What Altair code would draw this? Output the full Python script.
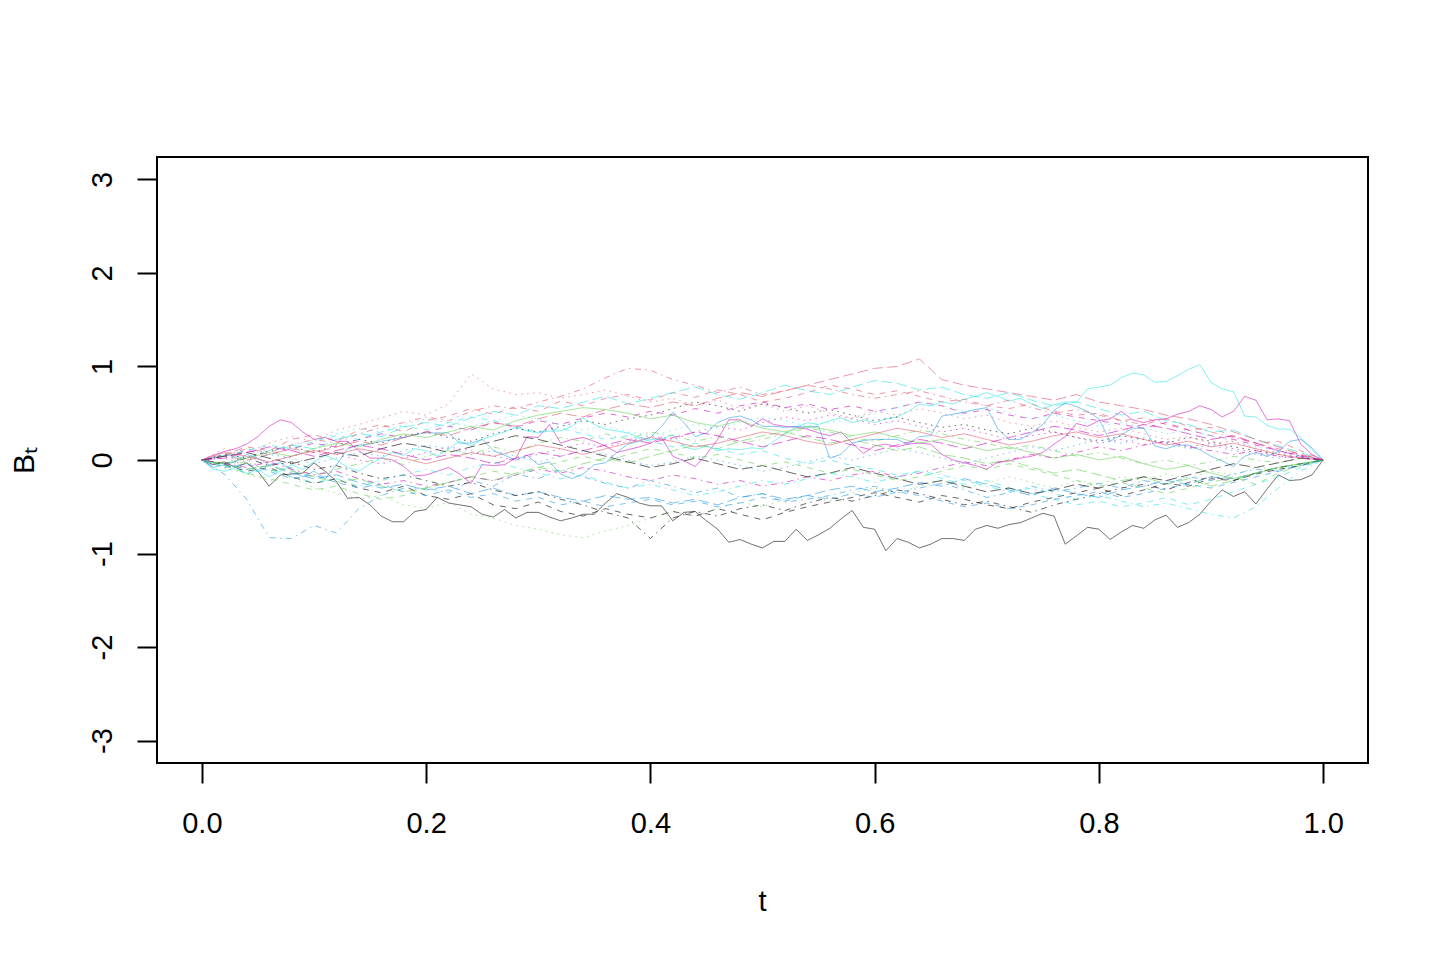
import altair as alt
import pandas as pd

# ---- colours / line types of R's matplot (col = 1:6, lty = 1:5 cycling) ----
PALETTE = ["#000000", "#DF536B", "#61D04F", "#2297E6", "#28E2E5", "#CD0BBC"]
LTY = ["solid", "dashed", "dotted", "dotdash", "longdash"]
DASH = {"solid": [1, 0], "dashed": [6, 6], "dotted": [1.5, 4.5],
        "dotdash": [1.5, 4.5, 6, 4.5], "longdash": [10.5, 4.5]}

X_TICKS = [0.0, 0.2, 0.4, 0.6, 0.8, 1.0]
Y_TICKS = [-3, -2, -1, 0, 1, 2, 3]

# ---- paths (fine: step 0.01, coarse: step 0.02) ----
s01 = [0, -0.05, -0.02, -0.08, -0.03, -0.12, -0.28, -0.16, -0.15, -0.14,
       -0.03, -0.12, -0.23, -0.41, -0.40, -0.48, -0.60, -0.66, -0.66, -0.55,
       -0.53, -0.40, -0.46, -0.48, -0.50, -0.58, -0.61, -0.53, -0.62, -0.56,
       -0.56, -0.61, -0.65, -0.62, -0.58, -0.58, -0.46, -0.36, -0.40, -0.46,
       -0.49, -0.49, -0.65, -0.56, -0.55, -0.65, -0.74, -0.88, -0.85, -0.90,
       -0.94, -0.87, -0.87, -0.74, -0.86, -0.80, -0.73, -0.63, -0.54, -0.72,
       -0.74, -0.97, -0.84, -0.88, -0.94, -0.90, -0.84, -0.84, -0.86, -0.74,
       -0.70, -0.73, -0.69, -0.67, -0.62, -0.57, -0.60, -0.90, -0.81, -0.72,
       -0.74, -0.85, -0.77, -0.70, -0.73, -0.64, -0.59, -0.72, -0.67, -0.58,
       -0.44, -0.32, -0.39, -0.34, -0.47, -0.31, -0.16, -0.22, -0.21, -0.16,
       0]
s06 = [0, 0.05, 0.09, 0.12, 0.17, 0.25, 0.36, 0.43, 0.40, 0.30,
       0.22, 0.24, 0.20, 0.20, 0.10, 0.02, 0.02, 0.00, -0.07, -0.17,
       -0.16, -0.12, -0.08, -0.15, -0.25, -0.05, -0.06, -0.05, 0.02, 0.25,
       0.24, 0.38, 0.18, 0.22, 0.24, 0.20, 0.15, 0.08, 0.11, 0.14,
       0.18, 0.24, 0.04, -0.01, -0.07, 0.06, 0.22, 0.43, 0.43, 0.36,
       0.44, 0.38, 0.36, 0.35, 0.33, 0.29, 0.26, 0.30, 0.18, 0.07,
       0.15, 0.17, 0.14, 0.17, 0.18, 0.17, 0.06, 0.00, -0.03, -0.06,
       -0.10, -0.02, -0.01, 0.02, 0.04, 0.08, 0.17, 0.25, 0.39, 0.36,
       0.42, 0.44, 0.52, 0.43, 0.40, 0.43, 0.44, 0.49, 0.52, 0.58,
       0.54, 0.46, 0.52, 0.68, 0.64, 0.43, 0.44, 0.42, 0.17, 0.06,
       0]
s11 = [0, -0.10, -0.12, -0.08, -0.15, -0.10, -0.18, -0.12, -0.05, -0.10,
       -0.02, 0.05, 0.00, -0.08, -0.12, -0.04, 0.02, 0.08, 0.05, 0.12,
       0.10, 0.04, 0.12, 0.20, 0.15, 0.22, 0.26, 0.30, 0.35, 0.31,
       0.29, 0.31, 0.31, 0.36, 0.45, 0.38, 0.33, 0.31, 0.29, 0.24,
       0.22, 0.22, 0.27, 0.14, 0.11, 0.15, 0.10, 0.12, 0.11, 0.13,
       0.12, 0.20, 0.28, 0.35, 0.40, 0.38, 0.42, 0.45, 0.40, 0.43,
       0.40, 0.44, 0.46, 0.52, 0.60, 0.58, 0.62, 0.60, 0.65, 0.68,
       0.72, 0.68, 0.63, 0.66, 0.60, 0.55, 0.59, 0.62, 0.62, 0.76,
       0.78, 0.80, 0.88, 0.93, 0.91, 0.83, 0.84, 0.90, 0.97, 1.02,
       0.83, 0.76, 0.73, 0.47, 0.46, 0.37, 0.33, 0.33, 0.24, 0.11,
       0]
s16 = [0, -0.08, -0.05, -0.02, 0.06, 0.02, -0.05, -0.03, -0.10, -0.18,
       -0.12, -0.20, -0.05, 0.12, 0.16, 0.17, 0.20, 0.22, 0.24, 0.27,
       0.29, 0.29, 0.29, 0.18, 0.18, 0.22, 0.10, 0.05, 0.00, 0.05,
       -0.05, -0.02, -0.15, -0.20, -0.15, -0.05, -0.03, 0.08, 0.17, 0.20,
       0.24, 0.36, 0.51, 0.40, 0.25, 0.29, 0.40, 0.45, 0.47, 0.43,
       0.36, 0.36, 0.35, 0.36, 0.35, 0.36, 0.02, 0.06, 0.18, 0.21,
       0.22, 0.22, 0.22, 0.17, 0.25, 0.26, 0.47, 0.49, 0.51, 0.54,
       0.56, 0.33, 0.22, 0.22, 0.29, 0.38, 0.53, 0.61, 0.57, 0.52,
       0.44, 0.20, 0.27, 0.34, 0.34, 0.15, 0.12, 0.16, 0.16, 0.11,
       0.04, -0.01, -0.07, 0.04, 0.08, 0.04, 0.09, 0.20, 0.22, 0.13,
       0]

s02 = [0, 0.06, 0.14, 0.10, 0.22, 0.27, 0.20, 0.32, 0.38, 0.30,
       0.42, 0.47, 0.55, 0.49, 0.57, 0.52, 0.63, 0.58, 0.66, 0.70,
       0.64, 0.72, 0.67, 0.75, 0.70, 0.62, 0.66, 0.72, 0.80, 0.76,
       0.70, 0.74, 0.68, 0.62, 0.65, 0.58, 0.55, 0.60, 0.52, 0.48,
       0.50, 0.42, 0.45, 0.38, 0.32, 0.35, 0.25, 0.18, 0.20, 0.10, 0]
s03 = [0, -0.08, -0.15, -0.22, -0.18, -0.30, -0.35, -0.42, -0.38, -0.48,
       -0.52, -0.45, -0.58, -0.62, -0.70, -0.74, -0.80, -0.83, -0.76, -0.70,
       -0.62, -0.55, -0.60, -0.52, -0.45, -0.50, -0.42, -0.38, -0.44, -0.35,
       -0.30, -0.36, -0.28, -0.22, -0.30, -0.25, -0.18, -0.24, -0.30, -0.22,
       -0.26, -0.18, -0.22, -0.15, -0.20, -0.12, -0.16, -0.08, -0.10, -0.05, 0]
s04 = [0, -0.15, -0.42, -0.83, -0.84, -0.70, -0.78, -0.52, -0.38, -0.30,
       -0.30, -0.35, -0.22, -0.28, -0.15, -0.20, -0.10, -0.18, -0.25, -0.30,
       -0.22, -0.28, -0.35, -0.30, -0.40, -0.36, -0.45, -0.42, -0.38, -0.32,
       -0.28, -0.35, -0.30, -0.25, -0.32, -0.40, -0.35, -0.28, -0.34, -0.30,
       -0.25, -0.30, -0.22, -0.26, -0.18, -0.22, -0.15, -0.10, -0.12, -0.05, 0]
s05 = [0, 0.05, 0.02, 0.10, 0.16, 0.12, 0.22, 0.28, 0.25, 0.35,
       0.40, 0.36, 0.45, 0.52, 0.48, 0.58, 0.55, 0.62, 0.68, 0.60,
       0.66, 0.72, 0.78, 0.70, 0.65, 0.72, 0.80, 0.74, 0.70, 0.78,
       0.85, 0.82, 0.75, 0.78, 0.70, 0.66, 0.72, 0.64, 0.58, 0.62,
       0.55, 0.48, 0.52, 0.42, 0.38, 0.30, 0.32, 0.22, 0.15, 0.08, 0]
s07 = [0, -0.05, -0.12, -0.08, -0.18, -0.25, -0.20, -0.30, -0.35, -0.28,
       -0.38, -0.42, -0.36, -0.48, -0.52, -0.45, -0.55, -0.60, -0.52, -0.58,
       -0.62, -0.55, -0.60, -0.52, -0.58, -0.64, -0.56, -0.50, -0.45, -0.40,
       -0.35, -0.40, -0.45, -0.38, -0.42, -0.48, -0.52, -0.45, -0.40, -0.35,
       -0.30, -0.38, -0.32, -0.25, -0.28, -0.20, -0.22, -0.15, -0.10, -0.06, 0]
s08 = [0, 0.12, 0.08, 0.18, 0.25, 0.20, 0.32, 0.38, 0.45, 0.52,
       0.48, 0.60, 0.92, 0.76, 0.70, 0.72, 0.66, 0.70, 0.75, 0.68,
       0.62, 0.66, 0.58, 0.64, 0.55, 0.60, 0.52, 0.58, 0.50, 0.45,
       0.52, 0.48, 0.55, 0.50, 0.44, 0.48, 0.40, 0.36, 0.42, 0.35,
       0.30, 0.34, 0.28, 0.22, 0.25, 0.18, 0.20, 0.12, 0.08, 0.05, 0]
s09 = [0, -0.06, -0.02, -0.12, -0.08, -0.16, -0.10, -0.04, 0.02, -0.05,
       0.04, 0.10, 0.06, 0.14, 0.08, 0.18, 0.24, 0.20, 0.28, 0.22,
       0.30, 0.26, 0.20, 0.25, 0.18, 0.22, 0.28, 0.34, 0.30, 0.24,
       0.20, 0.26, 0.32, 0.28, 0.22, 0.18, 0.12, 0.16, 0.10, 0.04,
       0.08, 0.02, -0.04, 0.00, -0.06, -0.02, 0.04, 0.00, -0.03, 0.02, 0]
s10 = [0, -0.04, -0.10, -0.06, -0.14, -0.20, -0.16, -0.24, -0.30, -0.26,
       -0.32, -0.28, -0.36, -0.30, -0.38, -0.34, -0.40, -0.44, -0.38, -0.42,
       -0.40, -0.46, -0.42, -0.48, -0.40, -0.36, -0.42, -0.38, -0.32, -0.28,
       -0.34, -0.30, -0.24, -0.28, -0.20, -0.26, -0.32, -0.38, -0.30, -0.36,
       -0.40, -0.32, -0.28, -0.22, -0.26, -0.18, -0.20, -0.14, -0.08, -0.04, 0]
s12 = [0, 0.04, 0.10, 0.06, 0.12, 0.18, 0.14, 0.22, 0.28, 0.24,
       0.30, 0.36, 0.32, 0.40, 0.35, 0.42, 0.38, 0.45, 0.50, 0.46,
       0.52, 0.48, 0.55, 0.50, 0.58, 0.62, 0.56, 0.60, 0.54, 0.58,
       0.52, 0.56, 0.62, 0.58, 0.50, 0.54, 0.48, 0.44, 0.50, 0.46,
       0.42, 0.38, 0.34, 0.40, 0.32, 0.26, 0.22, 0.16, 0.10, 0.05, 0]
s13 = [0, 0.06, 0.02, 0.10, 0.14, 0.08, 0.16, 0.22, 0.18, 0.26,
       0.30, 0.24, 0.20, 0.28, 0.34, 0.30, 0.36, 0.42, 0.38, 0.44,
       0.48, 0.55, 0.62, 0.58, 0.52, 0.60, 0.56, 0.50, 0.54, 0.48,
       0.42, 0.46, 0.40, 0.35, 0.38, 0.32, 0.28, 0.34, 0.30, 0.24,
       0.20, 0.26, 0.22, 0.18, 0.24, 0.20, 0.14, 0.10, 0.06, 0.03, 0]
s14 = [0, 0.05, 0.12, 0.08, 0.16, 0.22, 0.18, 0.28, 0.35, 0.40,
       0.46, 0.42, 0.52, 0.58, 0.55, 0.62, 0.68, 0.76, 0.88, 0.98,
       0.96, 0.86, 0.80, 0.72, 0.78, 0.70, 0.74, 0.80, 0.76, 0.70,
       0.66, 0.70, 0.74, 0.68, 0.62, 0.58, 0.64, 0.56, 0.50, 0.54,
       0.48, 0.42, 0.38, 0.44, 0.36, 0.30, 0.24, 0.18, 0.12, 0.06, 0]
s15 = [0, -0.04, -0.10, -0.06, -0.12, -0.18, -0.24, -0.20, -0.28, -0.34,
       -0.30, -0.24, -0.18, -0.22, -0.14, -0.08, -0.12, -0.04, 0.02, -0.03,
       0.04, 0.10, 0.16, 0.12, 0.20, 0.26, 0.30, 0.24, 0.18, 0.22,
       0.16, 0.10, 0.14, 0.06, 0.02, -0.04, 0.00, -0.08, -0.14, -0.10,
       -0.16, -0.22, -0.18, -0.26, -0.20, -0.28, -0.22, -0.14, -0.08, -0.04, 0]
s17 = [0, 0.04, 0.10, 0.16, 0.12, 0.20, 0.26, 0.22, 0.30, 0.36,
       0.32, 0.40, 0.46, 0.42, 0.36, 0.30, 0.34, 0.28, 0.22, 0.26,
       0.20, 0.14, 0.18, 0.12, 0.06, 0.10, 0.02, -0.04, 0.00, -0.06,
       -0.10, -0.16, -0.12, -0.20, -0.26, -0.22, -0.30, -0.36, -0.42, -0.48,
       -0.44, -0.50, -0.46, -0.40, -0.48, -0.42, -0.34, -0.26, -0.18, -0.08, 0]
s18 = [0, 0.02, -0.06, -0.02, 0.04, 0.10, 0.06, 0.00, -0.04, 0.02,
       0.08, 0.14, 0.10, 0.04, 0.00, 0.06, 0.12, 0.18, 0.14, 0.20,
       0.26, 0.22, 0.30, 0.36, 0.32, 0.40, 0.46, 0.42, 0.48, 0.44,
       0.38, 0.42, 0.36, 0.30, 0.34, 0.28, 0.22, 0.26, 0.30, 0.24,
       0.18, 0.22, 0.16, 0.20, 0.14, 0.18, 0.12, 0.08, 0.04, 0.02, 0]
s19 = [0, -0.04, 0.02, -0.06, -0.02, -0.10, -0.06, -0.14, -0.20, -0.16,
       -0.22, -0.28, -0.24, -0.32, -0.38, -0.34, -0.42, -0.48, -0.56, -0.62,
       -0.84, -0.62, -0.55, -0.60, -0.52, -0.48, -0.54, -0.46, -0.40, -0.44,
       -0.38, -0.32, -0.36, -0.42, -0.48, -0.44, -0.50, -0.56, -0.48, -0.42,
       -0.36, -0.30, -0.26, -0.32, -0.24, -0.18, -0.22, -0.14, -0.08, -0.04, 0]
s20 = [0, 0.04, 0.00, 0.06, 0.12, 0.08, 0.14, 0.20, 0.16, 0.24,
       0.30, 0.26, 0.34, 0.40, 0.36, 0.44, 0.50, 0.46, 0.54, 0.60,
       0.56, 0.62, 0.58, 0.66, 0.72, 0.68, 0.74, 0.80, 0.86, 0.92,
       0.98, 1.00, 1.08, 0.86, 0.80, 0.76, 0.72, 0.68, 0.64, 0.70,
       0.62, 0.58, 0.54, 0.48, 0.44, 0.38, 0.30, 0.22, 0.14, 0.06, 0]
s21 = [0, -0.04, 0.02, 0.08, 0.04, 0.12, 0.18, 0.14, 0.22, 0.28,
       0.24, 0.30, 0.36, 0.32, 0.42, 0.48, 0.52, 0.56, 0.54, 0.50,
       0.44, 0.48, 0.40, 0.36, 0.42, 0.34, 0.30, 0.36, 0.32, 0.26,
       0.30, 0.24, 0.18, 0.22, 0.16, 0.10, 0.14, 0.08, 0.02, 0.06,
       0.00, 0.04, -0.04, -0.10, -0.06, -0.14, -0.20, -0.14, -0.08, -0.04, 0]
s22 = [0, -0.08, -0.04, -0.12, -0.20, -0.16, -0.24, -0.30, -0.26, -0.34,
       -0.38, -0.32, -0.40, -0.36, -0.44, -0.40, -0.48, -0.44, -0.50, -0.46,
       -0.42, -0.48, -0.44, -0.50, -0.46, -0.40, -0.44, -0.38, -0.42, -0.36,
       -0.40, -0.34, -0.38, -0.44, -0.50, -0.46, -0.52, -0.48, -0.42, -0.38,
       -0.34, -0.40, -0.36, -0.30, -0.26, -0.30, -0.24, -0.18, -0.12, -0.06, 0]
s23 = [0, 0.06, 0.12, 0.08, 0.16, 0.22, 0.28, 0.34, 0.30, 0.38,
       0.44, 0.40, 0.36, 0.42, 0.48, 0.44, 0.38, 0.32, 0.36, 0.30,
       0.26, 0.32, 0.38, 0.34, 0.40, 0.46, 0.42, 0.36, 0.40, 0.44,
       0.50, 0.56, 0.62, 0.58, 0.52, 0.56, 0.50, 0.44, 0.48, 0.42,
       0.36, 0.40, 0.34, 0.28, 0.32, 0.26, 0.20, 0.14, 0.10, 0.04, 0]
s24 = [0, -0.04, -0.08, -0.02, -0.10, -0.16, -0.12, -0.20, -0.26, -0.22,
       -0.28, -0.24, -0.18, -0.22, -0.16, -0.10, -0.14, -0.08, -0.12, -0.18,
       -0.22, -0.16, -0.20, -0.26, -0.22, -0.28, -0.24, -0.18, -0.22, -0.16,
       -0.12, -0.18, -0.14, -0.08, -0.02, -0.06, 0.00, 0.06, 0.02, 0.08,
       0.14, 0.10, 0.16, 0.20, 0.14, 0.10, 0.06, 0.10, 0.04, 0.02, 0]
s25 = [0, 0.04, 0.08, 0.02, -0.04, 0.02, 0.08, 0.04, 0.12, 0.18,
       0.14, 0.08, 0.14, 0.20, 0.26, 0.22, 0.16, 0.10, 0.04, -0.02,
       -0.08, -0.04, 0.02, -0.04, -0.10, -0.06, -0.12, -0.18, -0.14, -0.08,
       -0.14, -0.20, -0.26, -0.22, -0.28, -0.34, -0.30, -0.36, -0.32, -0.26,
       -0.30, -0.24, -0.18, -0.22, -0.16, -0.10, -0.04, -0.08, -0.03, 0.02, 0]
s26 = [0, 0.08, 0.04, -0.02, 0.04, 0.10, 0.06, 0.12, 0.08, 0.02,
       -0.04, 0.02, 0.08, 0.04, 0.10, 0.16, 0.12, 0.06, 0.12, 0.18,
       0.24, 0.20, 0.14, 0.18, 0.24, 0.30, 0.26, 0.20, 0.16, 0.22,
       0.28, 0.34, 0.30, 0.24, 0.28, 0.22, 0.16, 0.20, 0.26, 0.30,
       0.24, 0.28, 0.22, 0.16, 0.20, 0.14, 0.18, 0.12, 0.06, 0.02, 0]
s27 = [0, -0.06, -0.14, -0.20, -0.26, -0.32, -0.28, -0.36, -0.42, -0.38,
       -0.30, -0.24, -0.18, -0.12, -0.16, -0.08, -0.02, 0.04, -0.02, 0.06,
       0.12, 0.08, 0.02, 0.06, 0.00, -0.06, -0.02, -0.08, -0.14, -0.10,
       -0.16, -0.22, -0.18, -0.12, -0.06, -0.10, -0.04, -0.10, -0.16, -0.22,
       -0.28, -0.24, -0.30, -0.36, -0.30, -0.24, -0.18, -0.26, -0.14, -0.06, 0]
s28 = [0, 0.04, -0.02, 0.06, 0.02, -0.04, 0.02, 0.08, 0.04, 0.10,
       0.16, 0.12, 0.06, 0.10, 0.04, -0.02, 0.04, 0.10, 0.06, 0.00,
       -0.06, -0.02, 0.04, 0.00, -0.06, -0.12, -0.08, -0.02, 0.04, 0.00,
       0.06, 0.12, 0.08, 0.02, -0.04, 0.02, 0.08, 0.14, 0.10, 0.16,
       0.22, 0.18, 0.24, 0.18, 0.12, 0.16, 0.10, 0.06, 0.02, 0.04, 0]
s29 = [0, -0.06, -0.14, -0.10, -0.18, -0.24, -0.20, -0.28, -0.22, -0.16,
       -0.10, -0.16, -0.08, -0.02, -0.08, -0.14, -0.20, -0.16, -0.24, -0.30,
       -0.26, -0.32, -0.38, -0.34, -0.28, -0.22, -0.26, -0.20, -0.14, -0.18,
       -0.24, -0.18, -0.12, -0.16, -0.22, -0.28, -0.34, -0.30, -0.36, -0.42,
       -0.38, -0.44, -0.50, -0.46, -0.52, -0.58, -0.62, -0.50, -0.30, -0.12, 0]
s30 = [0, 0.02, 0.08, 0.14, 0.10, 0.04, 0.10, 0.16, 0.12, 0.06,
       0.00, 0.06, 0.02, -0.04, 0.02, 0.08, 0.04, 0.10, 0.16, 0.22,
       0.18, 0.24, 0.30, 0.26, 0.20, 0.14, 0.20, 0.26, 0.22, 0.16,
       0.10, 0.16, 0.22, 0.18, 0.12, 0.18, 0.24, 0.30, 0.36, 0.32,
       0.26, 0.32, 0.38, 0.34, 0.28, 0.22, 0.26, 0.18, 0.10, 0.04, 0]

SERIES = [s01, s02, s03, s04, s05, s06, s07, s08, s09, s10,
          s11, s12, s13, s14, s15, s16, s17, s18, s19, s20,
          s21, s22, s23, s24, s25, s26, s27, s28, s29, s30]

rows = []
names, colors, dashes = [], [], []
for k, vals in enumerate(SERIES):
    name = f"s{k + 1:02d}"
    names.append(name)
    colors.append(PALETTE[k % 6])
    dashes.append(DASH[LTY[k % 5]])
    n = len(vals)
    for j, v in enumerate(vals):
        rows.append({"series": name, "order": k, "t": j / (n - 1), "B": v})
df = pd.DataFrame(rows)

FONT = "Liberation Sans"

x_axis = alt.Axis(values=X_TICKS, labelExpr="format(datum.value, '.1f')",
                  tickSize=20, tickWidth=2, tickColor="black",
                  labelFontSize=29, labelFont=FONT, labelColor="black",
                  labelPadding=26, labelFlush=False, labelOverlap=False,
                  domain=False, grid=False,
                  title="t", titleFontSize=29, titleFont=FONT,
                  titleFontWeight="normal", titleColor="black",
                  titleX=605, titleY=147, titleAlign="center",
                  titleBaseline="alphabetic")
y_axis = alt.Axis(values=Y_TICKS, labelExpr="'' + datum.value",
                  tickSize=20, tickWidth=2, tickColor="black",
                  labelFontSize=29, labelFont=FONT, labelColor="black",
                  labelAngle=270, labelAlign="center", labelBaseline="bottom",
                  labelPadding=20, labelFlush=False, labelOverlap=False,
                  domain=False, grid=False,
                  title="Bₜ", titleFontSize=30, titleFont=FONT,
                  titleFontWeight="normal", titleColor="black",
                  titleAngle=270, titleX=-124, titleY=303,
                  titleAlign="center", titleBaseline="alphabetic")

chart = alt.Chart(df).mark_line(strokeWidth=1, opacity=0.6, clip=True).encode(
    x=alt.X("t:Q", scale=alt.Scale(domain=[-0.04, 1.04], nice=False, zero=False), axis=x_axis),
    y=alt.Y("B:Q", scale=alt.Scale(domain=[-3.24, 3.24], nice=False, zero=False), axis=y_axis),
    color=alt.Color("series:N", scale=alt.Scale(domain=names, range=colors), legend=None),
    strokeDash=alt.StrokeDash("series:N", scale=alt.Scale(domain=names, range=dashes), legend=None),
    order=alt.Order("t:Q"),
).properties(
    width=1211, height=606,
    autosize=alt.AutoSizeParams(type="none"),
    padding={"left": 149, "top": 149, "right": 73, "bottom": 180},
    background="white",
).configure_view(stroke="black", strokeWidth=2)

chart.save("out.html", embed_options={"renderer": "svg", "actions": False})
